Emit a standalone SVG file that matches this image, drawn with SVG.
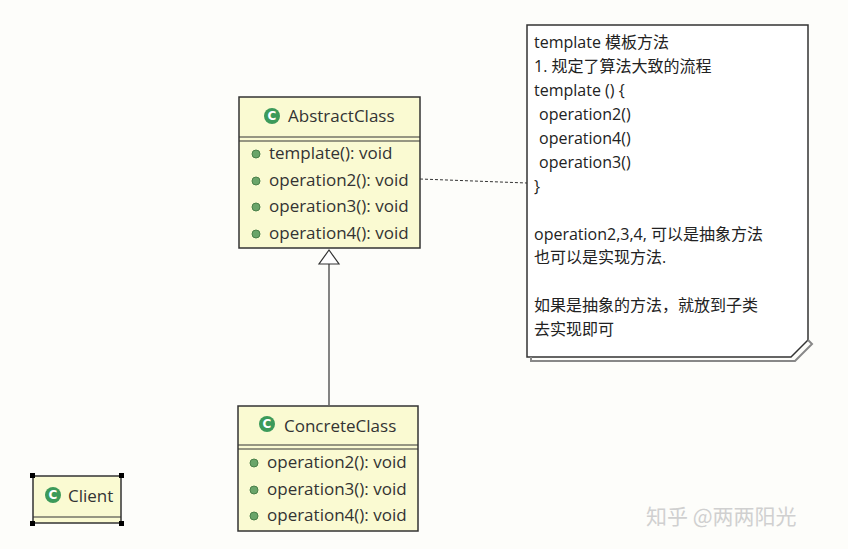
<svg xmlns="http://www.w3.org/2000/svg" width="848" height="549" viewBox="0 0 848 549">
<style>
.box{fill:#fafad2;stroke:#333;stroke-width:1.5}
.ln{stroke:#333;stroke-width:1.2;fill:none}
.t{font-family:"Open Sans","Noto Sans",sans-serif;font-size:17px;fill:#333}
.n{font-family:"Open Sans","Noto Sans CJK SC",sans-serif;font-size:16px;fill:#222}
.dot{fill:#6aa56a;stroke:#4a804a;stroke-width:1}
.ic{fill:#3c9a5a}
.icT{font-family:"DejaVu Sans",sans-serif;font-size:12px;font-weight:bold;fill:#fff}
</style>
<rect width="848" height="549" fill="#fdfdfa"/>
<g id="connectors">
<path class="ln" d="M329,405 V264"/>
<polygon points="329,250 319,264 339,264" fill="#fff" stroke="#333" stroke-width="1.2"/>
<path d="M420,179 L527,183" stroke="#333" stroke-width="1" stroke-dasharray="3,2" fill="none"/>
</g>
<g id="AbstractClass">
<rect class="box" x="239" y="97" width="181" height="151"/>
<path class="ln" d="M239,137 H420 M239,141 H420"/>
<circle class="ic" cx="272" cy="116" r="8"/><text class="icT" x="272" y="120" text-anchor="middle">C</text>
<text class="t" x="288" y="122">AbstractClass</text>
<circle class="dot" cx="256" cy="154" r="4"/><text class="t" x="269" y="159">template(): void</text>
<circle class="dot" cx="256" cy="181" r="4"/><text class="t" x="269" y="186">operation2(): void</text>
<circle class="dot" cx="256" cy="207" r="4"/><text class="t" x="269" y="212">operation3(): void</text>
<circle class="dot" cx="256" cy="234" r="4"/><text class="t" x="269" y="239">operation4(): void</text>
</g>
<g id="ConcreteClass">
<rect class="box" x="238" y="406" width="180" height="125"/>
<path class="ln" d="M238,445 H418 M238,449 H418"/>
<circle class="ic" cx="267" cy="424" r="8"/><text class="icT" x="267" y="428" text-anchor="middle">C</text>
<text class="t" x="284" y="432">ConcreteClass</text>
<circle class="dot" cx="254" cy="463" r="4"/><text class="t" x="267" y="468">operation2(): void</text>
<circle class="dot" cx="254" cy="490" r="4"/><text class="t" x="267" y="495">operation3(): void</text>
<circle class="dot" cx="254" cy="516" r="4"/><text class="t" x="267" y="521">operation4(): void</text>
</g>
<g id="Client">
<rect class="box" x="33" y="476" width="88" height="47"/>
<path class="ln" d="M33,517 H121"/>
<rect x="30" y="473" width="5" height="5" fill="#000"/><rect x="119" y="473" width="5" height="5" fill="#000"/>
<rect x="30" y="521" width="5" height="5" fill="#000"/><rect x="119" y="521" width="5" height="5" fill="#000"/>
<circle class="ic" cx="53" cy="495" r="8"/><text class="icT" x="53" y="499" text-anchor="middle">C</text>
<text class="t" x="68" y="502">Client</text>
</g>
<g id="Note">
<path d="M527,25 H808 V340 L791,357 H527 Z" fill="#fff" stroke="#333" stroke-width="1.5"/>
<path d="M808,340 L812,344 L795,361 H531 V357" fill="none" stroke="#888" stroke-width="2"/>
<text class="n" x="534" y="48">template 模板方法</text>
<text class="n" x="534" y="72">1. 规定了算法大致的流程</text>
<text class="n" x="534" y="96">template () {</text>
<text class="n" x="539" y="120">operation2()</text>
<text class="n" x="539" y="144">operation4()</text>
<text class="n" x="539" y="168">operation3()</text>
<text class="n" x="534" y="192">}</text>
<text class="n" x="534" y="240">operation2,3,4, 可以是抽象方法</text>
<text class="n" x="534" y="263">也可以是实现方法.</text>
<text class="n" x="534" y="311">如果是抽象的方法，就放到子类</text>
<text class="n" x="534" y="335">去实现即可</text>
</g>
<text x="646" y="524" font-family="Noto Sans CJK SC,sans-serif" font-size="21" fill="#d0d0d0">知乎 @两两阳光</text>
</svg>
